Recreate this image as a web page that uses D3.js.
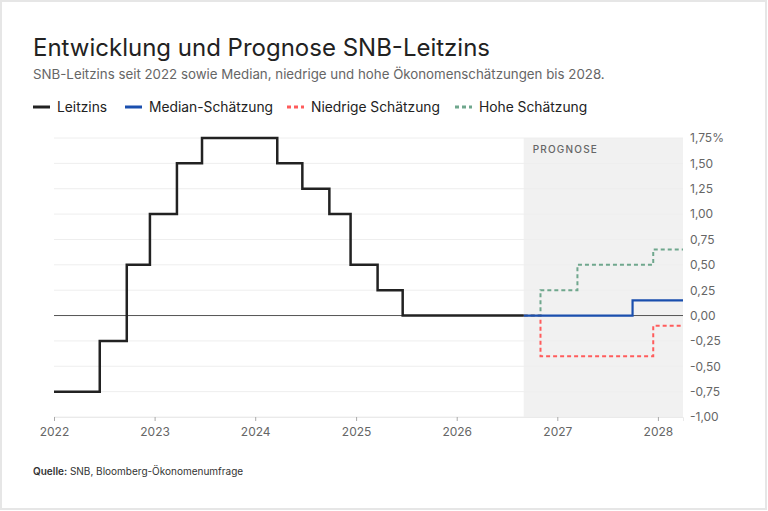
<!DOCTYPE html>
<html>
<head>
<meta charset="utf-8">
<script src="https://cdn.jsdelivr.net/npm/d3@7"></script>
<style>
  body { margin: 0; background: #fff; }
  svg { display: block; font-family: Inter, "Noto Sans", sans-serif; }
</style>
</head>
<body>
<svg id="chart"></svg>
<script>
// Daten
const leitzinsDates = ['2022-01-01','2022-06-16','2022-09-22','2022-12-15','2023-03-23','2023-06-22','2024-03-21','2024-06-20','2024-09-26','2024-12-12','2025-03-20','2025-06-19','2026-09-01'];
const leitzinsValues = [-0.75,-0.25,0.5,1.0,1.5,1.75,1.5,1.25,1.0,0.5,0.25,0,0];

const medianDates = ['2026-09-01','2027-10-01','2028-04-01'];
const medianValues = [0,0.15,0.15];

const lowDates = ['2026-09-01','2026-11-01','2027-12-15','2028-04-01'];
const lowValues = [0,-0.4,-0.1,-0.1];

const highDates = ['2026-09-01','2026-11-01','2027-03-15','2027-12-15','2028-04-01'];
const highValues = [0,0.25,0.5,0.65,0.65];

const yTicks = [-1,-0.75,-0.5,-0.25,0,0.25,0.5,0.75,1,1.25,1.5,1.75];
const xTickYears = [2022,2023,2024,2025,2026,2027,2028];

const legendItems = [
  {label:'Leitzins', color:'#222', dash:null, x:33},
  {label:'Median-Schätzung', color:'#1a4fae', dash:null, x:125},
  {label:'Niedrige Schätzung', color:'#ff5c5c', dash:'4,3', x:287},
  {label:'Hohe Schätzung', color:'#6fa78d', dash:'4,3', x:455}
];

const parse = d3.timeParse('%Y-%m-%d');
const toPts = (ds, vs) => ds.map((d,i) => ({date: parse(d), value: vs[i]}));

const width = 768, height = 511;
const mLeft = 54, mRight = 683, mTop = 138, mBottom = 417;

const svg = d3.select('#chart').attr('width', width).attr('height', height);

// Rahmen
svg.append('rect').attr('x',1).attr('y',1).attr('width',width-3).attr('height',height-3)
  .attr('fill','#fff').attr('stroke','#e6e6e6').attr('stroke-width',2);

const x = d3.scaleTime().domain([parse('2022-01-01'), parse('2028-04-01')]).range([mLeft, mRight]);
const y = d3.scaleLinear().domain([-1, 1.75]).range([mBottom, mTop]);

// Titel
svg.append('text').attr('x',33).attr('y',56).attr('font-size',24).attr('fill','#222')
  .text('Entwicklung und Prognose SNB-Leitzins');
svg.append('text').attr('x',33).attr('y',79).attr('font-size',13.3).attr('fill','#666')
  .text('SNB-Leitzins seit 2022 sowie Median, niedrige und hohe Ökonomenschätzungen bis 2028.');

// Legende
const lg = svg.append('g').selectAll('g').data(legendItems).enter().append('g')
  .attr('transform', d => `translate(${d.x},107)`);
lg.append('line').attr('x1',0).attr('x2',17).attr('y1',0).attr('y2',0)
  .attr('stroke', d => d.color).attr('stroke-width',3)
  .attr('stroke-dasharray', d => d.dash);
lg.append('text').attr('x',24).attr('y',5).attr('font-size',13.8).attr('fill','#222')
  .text(d => d.label);

// Prognose-Bereich
const progStart = parse('2026-09-01');
svg.append('rect').attr('x', x(progStart)).attr('y', mTop)
  .attr('width', mRight - x(progStart)).attr('height', mBottom - mTop).attr('fill','#f1f1f1');
svg.append('text').attr('x', x(progStart)+9).attr('y',153).attr('font-size',10)
  .attr('letter-spacing',1.2).attr('font-weight',500).attr('fill','#666').text('PROGNOSE');

// Gitter
svg.append('g').selectAll('line').data(yTicks.filter(v => v !== 0)).enter().append('line')
  .attr('x1', mLeft).attr('x2', mRight).attr('y1', d => y(d)).attr('y2', d => y(d))
  .attr('stroke','#eeeeee').attr('stroke-width',1);

// y-Achse rechts
const fmt = v => d3.format('.2f')(v).replace('.', ',').replace('−', '-');
const yAxis = d3.axisRight(y).tickValues(yTicks).tickSize(0).tickPadding(7)
  .tickFormat(v => fmt(v) + (v === 1.75 ? '%' : ''));
const yg = svg.append('g').attr('transform', `translate(${mRight},0)`).call(yAxis);
yg.select('.domain').remove();
yg.selectAll('text').attr('font-size',12).attr('fill','#666').attr('font-family','Inter, sans-serif');

// x-Achse
const xAxis = d3.axisBottom(x).tickValues(xTickYears.map(yr => new Date(yr,0,1)))
  .tickFormat(d3.timeFormat('%Y')).tickSize(4).tickPadding(6);
const xg = svg.append('g').attr('transform', `translate(0,${mBottom})`).call(xAxis);
xg.select('.domain').attr('stroke','#eaeaea');
xg.selectAll('.tick line').attr('stroke','#aaa');
xg.selectAll('text').attr('font-size',12).attr('fill','#666').attr('font-family','Inter, sans-serif');

// Nulllinie
svg.append('line').attr('x1', mLeft).attr('x2', mRight).attr('y1', y(0)).attr('y2', y(0))
  .attr('stroke','#555').attr('stroke-width',1);

const line = d3.line().x(d => x(d.date)).y(d => y(d.value)).curve(d3.curveStepAfter);

const series = [
  {pts: toPts(lowDates, lowValues), color:'#ff5c5c', dash:'4,3', w:2},
  {pts: toPts(highDates, highValues), color:'#6fa78d', dash:'4,3', w:2},
  {pts: toPts(medianDates, medianValues), color:'#1a4fae', dash:null, w:2.2},
  {pts: toPts(leitzinsDates, leitzinsValues), color:'#222', dash:null, w:2.5}
];
svg.append('g').selectAll('path').data(series).enter().append('path')
  .attr('d', d => line(d.pts)).attr('fill','none')
  .attr('stroke', d => d.color).attr('stroke-width', d => d.w)
  .attr('stroke-dasharray', d => d.dash);

// Quelle
const src = svg.append('text').attr('x',33).attr('y',475).attr('font-size',10).attr('fill','#333');
src.append('tspan').attr('font-weight',600).text('Quelle:');
src.append('tspan').text(' SNB, Bloomberg-Ökonomenumfrage');
</script>
</body>
</html>
